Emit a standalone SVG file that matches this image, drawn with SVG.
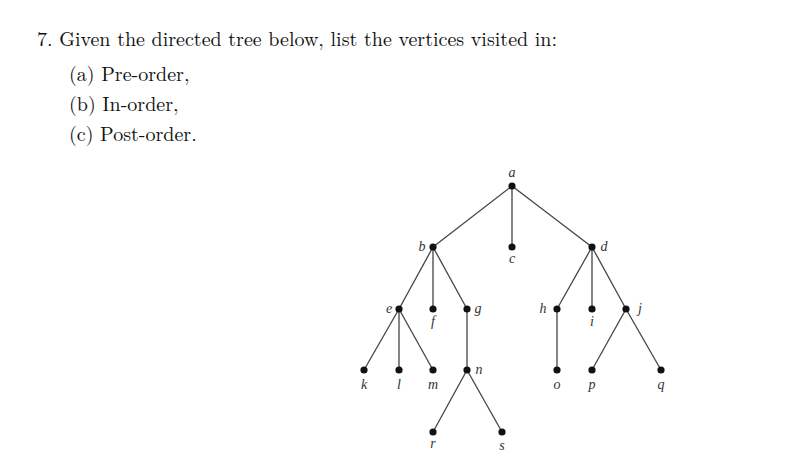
<svg xmlns="http://www.w3.org/2000/svg" width="808" height="466" viewBox="0 0 808 466">
<style>
.q{font-family:"Latin Modern Roman","Liberation Serif",serif;font-size:20px;fill:#111}
.l{font-family:"Liberation Serif",serif;font-style:italic;font-size:14px;fill:#333}
.e line{stroke:#444;stroke-width:1.3}
.n circle{fill:#111}
</style>
<rect width="808" height="466" fill="#fff"/>
<text class="q" x="37" y="46">7. Given the directed tree below, list the vertices visited in:</text>
<text class="q" x="69" y="81">(a) Pre-order,</text>
<text class="q" x="69" y="111">(b) In-order,</text>
<text class="q" x="69" y="141">(c) Post-order.</text>
<g id="connectors" class="e">
<line x1="512" y1="186" x2="433" y2="247"/><line x1="512" y1="186" x2="512" y2="247"/><line x1="512" y1="186" x2="592" y2="247"/>
<line x1="433" y1="247" x2="399" y2="309"/><line x1="433" y1="247" x2="433" y2="309"/><line x1="433" y1="247" x2="467" y2="309"/>
<line x1="592" y1="247" x2="557" y2="309"/><line x1="592" y1="247" x2="592" y2="309"/><line x1="592" y1="247" x2="626" y2="309"/>
<line x1="399" y1="309" x2="364" y2="370"/><line x1="399" y1="309" x2="399" y2="370"/><line x1="399" y1="309" x2="433" y2="370"/>
<line x1="467" y1="309" x2="467" y2="370"/><line x1="557" y1="309" x2="557" y2="370"/>
<line x1="626" y1="309" x2="592" y2="370"/><line x1="626" y1="309" x2="661" y2="370"/>
<line x1="467" y1="370" x2="433" y2="432"/><line x1="467" y1="370" x2="502" y2="432"/>
</g>
<g class="n">
<g id="a"><circle cx="512" cy="186" r="3.6"/><text class="l" x="512" y="177" text-anchor="middle">a</text></g>
<g id="b"><circle cx="433" cy="247" r="3.6"/><text class="l" x="422" y="251" text-anchor="middle">b</text></g>
<g id="c"><circle cx="512" cy="247" r="3.6"/><text class="l" x="512" y="263" text-anchor="middle">c</text></g>
<g id="d"><circle cx="592" cy="247" r="3.6"/><text class="l" x="604" y="251" text-anchor="middle">d</text></g>
<g id="e"><circle cx="399" cy="309" r="3.6"/><text class="l" x="389" y="313" text-anchor="middle">e</text></g>
<g id="f"><circle cx="433" cy="309" r="3.6"/><text class="l" x="433" y="326" text-anchor="middle">f</text></g>
<g id="g"><circle cx="467" cy="309" r="3.6"/><text class="l" x="478" y="313" text-anchor="middle">g</text></g>
<g id="h"><circle cx="557" cy="309" r="3.6"/><text class="l" x="543" y="313" text-anchor="middle">h</text></g>
<g id="i"><circle cx="592" cy="309" r="3.6"/><text class="l" x="592" y="326" text-anchor="middle">i</text></g>
<g id="j"><circle cx="626" cy="309" r="3.6"/><text class="l" x="640" y="313" text-anchor="middle">j</text></g>
<g id="k"><circle cx="364" cy="370" r="3.6"/><text class="l" x="364" y="389" text-anchor="middle">k</text></g>
<g id="l"><circle cx="399" cy="370" r="3.6"/><text class="l" x="399" y="389" text-anchor="middle">l</text></g>
<g id="m"><circle cx="433" cy="370" r="3.6"/><text class="l" x="433" y="389" text-anchor="middle">m</text></g>
<g id="n"><circle cx="467" cy="370" r="3.6"/><text class="l" x="479" y="374" text-anchor="middle">n</text></g>
<g id="o"><circle cx="557" cy="370" r="3.6"/><text class="l" x="557" y="389" text-anchor="middle">o</text></g>
<g id="p"><circle cx="592" cy="370" r="3.6"/><text class="l" x="592" y="389" text-anchor="middle">p</text></g>
<g id="q"><circle cx="661" cy="370" r="3.6"/><text class="l" x="661" y="389" text-anchor="middle">q</text></g>
<g id="r"><circle cx="433" cy="432" r="3.6"/><text class="l" x="433" y="448" text-anchor="middle">r</text></g>
<g id="s"><circle cx="502" cy="432" r="3.6"/><text class="l" x="502" y="450" text-anchor="middle">s</text></g>
</g>
</svg>
